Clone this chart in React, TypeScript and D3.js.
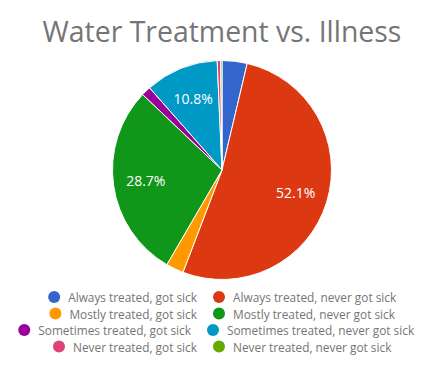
import React, { useEffect, useRef } from "react";
import * as d3 from "d3";

const categories = [
  "Always treated, got sick",
  "Always treated, never got sick",
  "Mostly treated, got sick",
  "Mostly treated, never got sick",
  "Sometimes treated, got sick",
  "Sometimes treated, never got sick",
  "Never treated, got sick",
  "Never treated, never got sick",
];
const values = [3.7, 52.1, 2.6, 28.7, 1.4, 10.8, 0.5, 0.2];
const colors = ["#3366cc", "#dc3912", "#ff9900", "#109618", "#990099", "#0099c6", "#dd4477", "#66aa00"];
const title = "Water Treatment vs. Illness";

const W = 445, H = 371;
const FONT = "'Open Sans', 'Noto Sans', sans-serif";

export default function App() {
  const ref = useRef<SVGSVGElement>(null);
  useEffect(() => {
    const svg = d3.select(ref.current);
    svg.selectAll("*").remove();
    svg.append("rect").attr("width", W).attr("height", H).attr("fill", "#fff");

    // title
    const t = svg.append("text")
      .attr("x", 222).attr("y", 42)
      .attr("text-anchor", "middle")
      .attr("font-family", FONT)
      .attr("font-size", 30)
      .attr("fill", "#757575")
      .text(title);
    const tw = (t.node() as SVGTextElement).getComputedTextLength();
    if (tw > 0) t.attr("font-size", 30 * 359 / tw);

    // pie
    const cx = 222, cy = 170, r = 109.5;
    const total = d3.sum(values);
    const pie = d3.pie<number>().sort(null).value(d => d);
    const arcs = pie(values);
    const arc = d3.arc<d3.PieArcDatum<number>>().innerRadius(0).outerRadius(r);
    const labelArc = d3.arc<d3.PieArcDatum<number>>().innerRadius(77).outerRadius(77);
    const g = svg.append("g").attr("transform", `translate(${cx},${cy})`);
    g.selectAll("path").data(arcs).enter().append("path")
      .attr("d", arc as any)
      .attr("fill", (_, i) => colors[i])
      .attr("stroke", "#fff").attr("stroke-width", 1);
    g.selectAll("text").data(arcs.filter(a => a.value / total > 0.05)).enter().append("text")
      .attr("transform", d => `translate(${labelArc.centroid(d)})`)
      .attr("text-anchor", "middle")
      .attr("dominant-baseline", "central")
      .attr("font-family", FONT)
      .attr("font-size", 14)
      .attr("fill", "#fff")
      .text(d => (d.value / total * 100).toFixed(1) + "%");

    // legend font size calibrated so first label is ~129px wide
    const probe = svg.append("text").attr("font-family", FONT).attr("font-size", 13).text(categories[0]);
    const pw = (probe.node() as SVGTextElement).getComputedTextLength();
    probe.remove();
    const lfs = pw > 0 ? 13 * 129 / pw : 12;

    const rowY = [297, 313.5, 330, 346.5];
    const leftEnd = [197, 197, 191, 197];
    const rightDot = [219, 219, 213, 219];
    categories.forEach((c, i) => {
      const row = Math.floor(i / 2), col = i % 2;
      const y = rowY[row];
      if (col === 0) {
        const tx = svg.append("text")
          .attr("x", leftEnd[row]).attr("y", y)
          .attr("text-anchor", "end").attr("dominant-baseline", "central")
          .attr("font-family", FONT).attr("font-size", lfs).attr("fill", "#757575")
          .text(c);
        const w = (tx.node() as SVGTextElement).getComputedTextLength();
        svg.append("circle").attr("cx", leftEnd[row] - w - 14).attr("cy", y).attr("r", 6).attr("fill", colors[i]);
      } else {
        svg.append("circle").attr("cx", rightDot[row]).attr("cy", y).attr("r", 6).attr("fill", colors[i]);
        svg.append("text")
          .attr("x", rightDot[row] + 14).attr("y", y)
          .attr("dominant-baseline", "central")
          .attr("font-family", FONT).attr("font-size", lfs).attr("fill", "#757575")
          .text(c);
      }
    });
  }, []);
  return <svg ref={ref} width={W} height={H} style={{ position: "absolute", left: 0, top: 0 }} />;
}
